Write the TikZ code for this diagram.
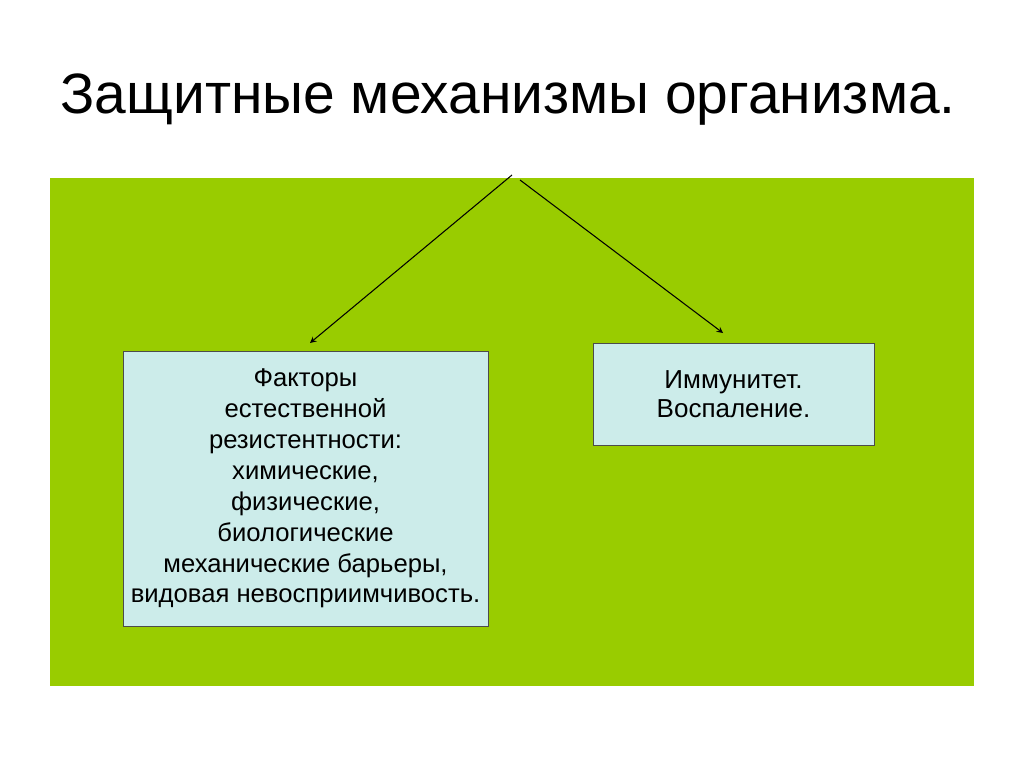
\documentclass[tikz,border=0pt]{standalone}
\usepackage{fontspec}
\setmainfont{Liberation Sans}
\usetikzlibrary{positioning}
\definecolor{greenbg}{HTML}{99CC00}
\definecolor{boxfill}{HTML}{CCECEA}
\tikzset{
    factorbox/.style={draw=black!70, fill=boxfill, align=center, font=\fontsize{14.6}{17.6}\selectfont},
}
\begin{document}
\begin{tikzpicture}[x=0.02cm, y=-0.02cm]
    \useasboundingbox (0,0) rectangle (1024,767);
    \fill[greenbg] (50,178) rectangle (974,686);
    \node at (508,100)(title){\fontsize{32.4}{38}\selectfont Защитные механизмы организма.};

    \node[factorbox, minimum width=365*0.02cm, minimum height=275*0.02cm] at (305.5,488.5)(left){Факторы\\естественной\\резистентности:\\химические,\\физические,\\биологические\\механические барьеры,\\видовая невосприимчивость.};
    \node[factorbox, minimum width=281*0.02cm, minimum height=102*0.02cm, font=\fontsize{14.8}{16.5}\selectfont] at (733.5,394)(right){Иммунитет.\\Воспаление.};

    \coordinate (s1) at (512,175);
    \coordinate (s2) at (520,180);
    \coordinate (e1) at (310,343);
    \coordinate (e2) at (723,333);
    \draw[->, >=stealth, semithick] (s1) -- (e1);
    \draw[->, >=stealth, semithick] (s2) -- (e2);
\end{tikzpicture}
\end{document}
